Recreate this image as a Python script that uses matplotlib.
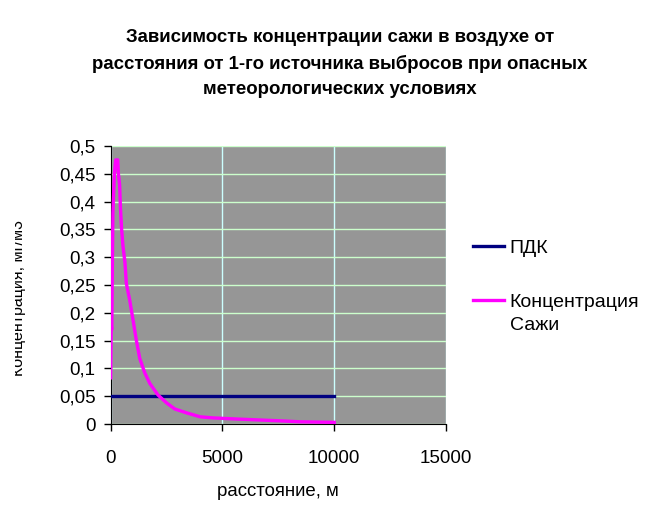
import matplotlib
matplotlib.use("Agg")
import matplotlib.pyplot as plt
from matplotlib.ticker import FuncFormatter
from matplotlib.transforms import Bbox

# данные
distance = [0, 25, 50, 75, 100, 165, 225, 315, 345, 400, 435, 490, 550, 640, 700,
            850, 1000, 1150, 1300, 1525, 1750, 2120, 2500, 2870, 3400, 4000,
            4580, 5640, 7720, 8470, 10000]
soot = [0.083, 0.178, 0.17, 0.286, 0.38, 0.45, 0.475, 0.475, 0.45, 0.43, 0.39,
        0.35, 0.32, 0.29, 0.253, 0.223, 0.187, 0.15, 0.118, 0.092, 0.073,
        0.052, 0.038, 0.027, 0.02, 0.013, 0.011, 0.009, 0.0055, 0.004, 0.003]
pdk_x = [0, 10000]
pdk_y = [0.05, 0.05]

title = ("Зависимость концентрации сажи в воздухе от\n"
         "расстояния от 1-го источника выбросов при опасных\n"
         "метеорологических условиях")

plt.rcParams['font.family'] = ['Liberation Sans', 'DejaVu Sans']

fig = plt.figure(figsize=(6.72, 5.19), dpi=100)
ax = fig.add_axes([0.1647, 0.183, 0.499, 0.5357])
ax.set_facecolor('#969696')

ax.plot(pdk_x, pdk_y, color='#000080', lw=2.4, label='ПДК', zorder=3)
ax.plot(distance, soot, color='#ff00ff', lw=2.4, label='Концентрация', zorder=4)

ax.set_xlim(0, 15000)
ax.set_ylim(0, 0.5)
ax.set_xticks([0, 5000, 10000, 15000])
ax.set_yticks([i * 0.05 for i in range(11)])
ax.yaxis.set_major_formatter(FuncFormatter(lambda v, p: ('%g' % round(v, 2)).replace('.', ',')))
ax.tick_params(direction='out', length=5, width=1, labelsize=13.5, pad=6)
ax.tick_params(axis='x', pad=14)

ax.grid(axis='y', color='#ccffcc', lw=1)
ax.grid(axis='x', color='#ccffff', lw=1)
ax.set_axisbelow(True)
for s in ['top', 'right']:
    ax.spines[s].set_visible(False)

ax.set_xlabel('расстояние, м', fontsize=13.4, labelpad=11)

# подпись оси Y обрезана, как в оригинале
yl = fig.text(26 / 672, 1 - 298 / 519, 'Концентрация, мг/м3', rotation=90,
              ha='right', va='center', fontsize=11.5)
yl.set_clip_box(Bbox.from_extents(15, 0, 60, 519))
yl.set_clip_on(True)

fig.text(340 / 672, 1 - 63.5 / 519, title, ha='center', va='center',
         fontsize=13.4, fontweight='bold', linespacing=1.6)

leg = ax.legend(loc='upper left', bbox_to_anchor=(1.056, 0.693), frameon=False,
                fontsize=14, handlelength=1.6, handletextpad=0.3,
                labelspacing=1.9, borderaxespad=0)
fig.text(510 / 672, 1 - 326 / 519, 'Сажи', ha='left', va='center', fontsize=14)

fig.savefig('out.png', dpi=100, facecolor='white')
